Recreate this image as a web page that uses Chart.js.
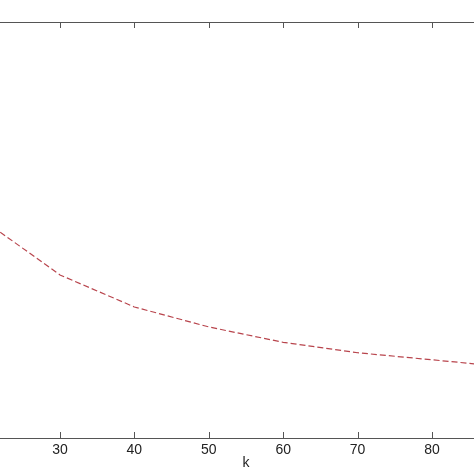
<!DOCTYPE html>
<html>
<head>
<meta charset="utf-8">
<script src="https://cdn.jsdelivr.net/npm/chart.js@4/dist/chart.umd.min.js"></script>
<style>
  html, body { margin: 0; padding: 0; background: #fff; }
  #wrap { width: 474px; height: 474px; }
</style>
</head>
<body>
<div id="wrap"><canvas id="chart"></canvas></div>
<script>
// Data
const kValues = [20, 30, 40, 50, 60, 70, 80, 90];
const errorValues = [0.52, 0.392, 0.315, 0.267, 0.230, 0.205, 0.188, 0.171];
const tickLabels = [30, 40, 50, 60, 70, 80];
const xTitle = 'k';
// visible window of the (cropped) axes, and the full axis range used for the label
const xVisible = [21.94, 85.65];
const xFullRange = [20, 90];

// Draw the matlab style box: top line, inward ticks, centred x label
const matlabBox = {
    id: 'matlabBox',
    afterDraw(chart) {
        const ctx = chart.ctx;
        const area = chart.chartArea;
        const x = chart.scales.x;
        ctx.save();
        ctx.strokeStyle = '#555';
        ctx.lineWidth = 1;
        ctx.beginPath();
        ctx.moveTo(area.left, area.top + 0.5);
        ctx.lineTo(area.right, area.top + 0.5);
        tickLabels.forEach(v => {
            const px = Math.round(x.getPixelForValue(v)) + 0.5;
            ctx.moveTo(px, area.bottom);
            ctx.lineTo(px, area.bottom - 6);
            ctx.moveTo(px, area.top);
            ctx.lineTo(px, area.top + 6);
        });
        ctx.stroke();

        ctx.fillStyle = '#222';
        ctx.font = '14px "Liberation Sans", Arial, sans-serif';
        ctx.textAlign = 'center';
        ctx.textBaseline = 'middle';
        const mid = (xFullRange[0] + xFullRange[1]) / 2;
        ctx.fillText(xTitle, x.getPixelForValue(mid), 463);
        ctx.restore();
    }
};

const chart = new Chart(document.getElementById('chart'), {
    type: 'line',
    data: {
        datasets: [{
            data: kValues.map((k, i) => ({ x: k, y: errorValues[i] })),
            borderColor: 'rgba(176, 48, 56, 0.9)',
            borderWidth: 1.2,
            borderDash: [6, 3],
            pointRadius: 0,
            tension: 0,
            fill: false
        }]
    },
    options: {
        responsive: true,
        maintainAspectRatio: false,
        animation: false,
        layout: { padding: { top: 22, left: 0, right: 0, bottom: 0 } },
        plugins: {
            legend: { display: false },
            tooltip: { enabled: false }
        },
        scales: {
            x: {
                type: 'linear',
                min: xVisible[0],
                max: xVisible[1],
                afterBuildTicks(scale) {
                    scale.ticks = tickLabels.map(v => ({ value: v }));
                },
                afterFit(scale) {
                    scale.height = 36;
                },
                grid: { display: false, drawTicks: false },
                border: { display: true, color: '#555', width: 1 },
                ticks: {
                    padding: 4,
                    color: '#222',
                    font: { family: '"Liberation Sans", Arial, sans-serif', size: 14 },
                    maxRotation: 0
                }
            },
            y: {
                display: false,
                min: 0,
                max: 1
            }
        }
    },
    plugins: [matlabBox]
});
</script>
</body>
</html>
